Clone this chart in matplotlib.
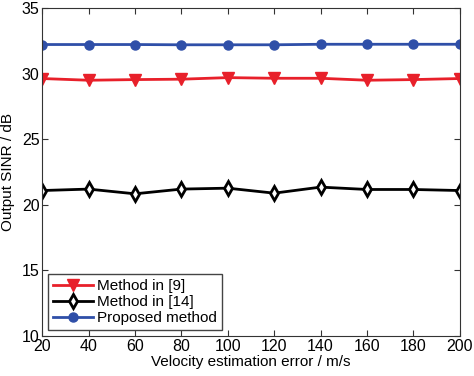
import matplotlib
matplotlib.use("Agg")
import matplotlib.pyplot as plt

# Data
velocity_err = [20, 40, 60, 80, 100, 120, 140, 160, 180, 200]
method_9 = [29.62, 29.49, 29.54, 29.57, 29.69, 29.64, 29.64, 29.49, 29.54, 29.62]
method_14 = [21.09, 21.20, 20.84, 21.20, 21.27, 20.89, 21.35, 21.17, 21.17, 21.09]
proposed = [32.21, 32.21, 32.21, 32.19, 32.19, 32.19, 32.23, 32.23, 32.23, 32.23]

plt.rcParams['font.family'] = ['Liberation Sans', 'DejaVu Sans']

fig = plt.figure(figsize=(4.74, 3.76), dpi=100)
ax = fig.add_axes([0.089, 0.106, 0.881, 0.873])

ax.plot(velocity_err, method_9, color='#e8202a', lw=2, marker='v', ms=9,
        label='Method in [9]')
ax.plot(velocity_err, method_14, color='black', lw=2, marker='d', ms=7,
        mfc='white', mew=2, label='Method in [14]')
ax.plot(velocity_err, proposed, color='#2f4fa8', lw=2, marker='o', ms=6.5,
        label='Proposed method')

ax.set_xlim(20, 200)
ax.set_ylim(10, 35)
ax.set_xticks(velocity_err)
ax.set_yticks([10, 15, 20, 25, 30, 35])
for s in ax.spines.values():
    s.set_color('#333333')
ax.tick_params(direction='in', top=True, right=True, labelsize=11.5, length=4,
               pad=2, color='#333333')
ax.set_xlabel('Velocity estimation error / m/s', fontsize=11, labelpad=1)
ax.set_ylabel('Output SINR / dB', fontsize=11, labelpad=5)

leg = ax.legend(loc='lower left', fontsize=11, fancybox=False, framealpha=1,
                edgecolor='#444444', borderaxespad=0.4, handlelength=2.6,
                handletextpad=0.3, labelspacing=0.15, borderpad=0.3)

fig.savefig('out.png', dpi=100)
